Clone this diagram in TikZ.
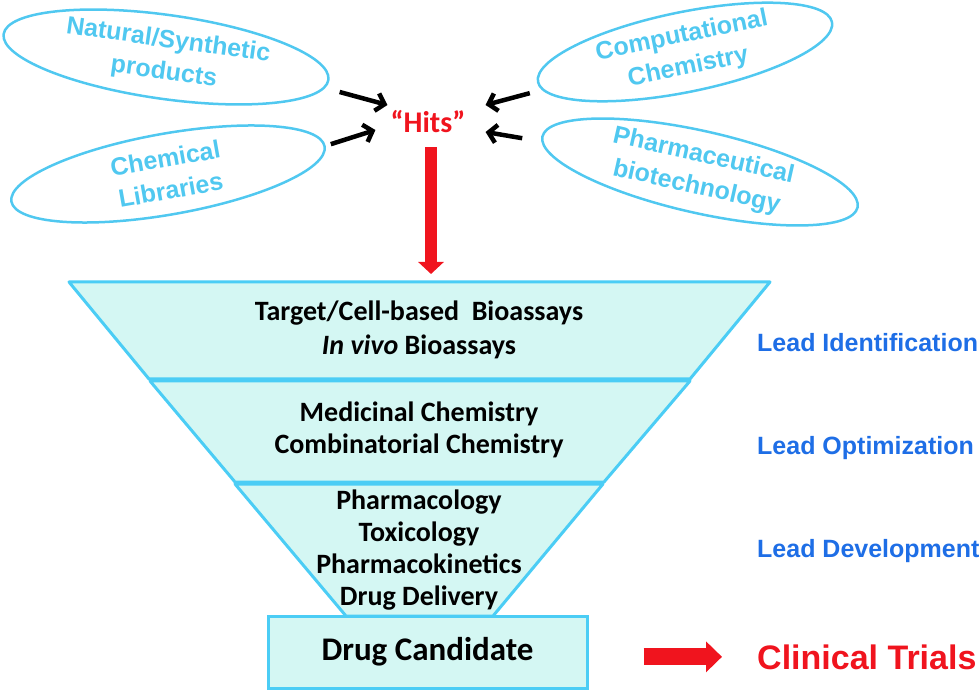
\documentclass[tikz,border=0pt]{standalone}
\usepackage{fontspec}
\setmainfont{Carlito}
\newfontfamily\arialfont{Liberation Sans}
\usetikzlibrary{arrows.meta,shapes.geometric}

\definecolor{skyline}{RGB}{80,200,240}
\definecolor{funnelfill}{RGB}{212,247,243}
\definecolor{funnelline}{RGB}{75,205,245}
\definecolor{leadblue}{RGB}{30,110,230}
\definecolor{hitred}{RGB}{240,20,30}

\begin{document}
\begin{tikzpicture}[
    x=1pt, y=-1pt,
    source/.style={
        ellipse,
        draw=skyline,
        line width=2.5pt,
        inner sep=0pt,
        align=center,
        text=skyline,
        font=\arialfont\bfseries\fontsize{25}{32}\selectfont
    },
    tier/.style={
        fill=funnelfill,
        draw=funnelline,
        line width=3pt,
        line join=round
    },
    tiertext/.style={
        align=center,
        inner sep=0pt,
        font=\bfseries\fontsize{28}{32}\selectfont
    },
    candidate/.style={
        rectangle,
        fill=funnelfill,
        draw=funnelline,
        line width=3pt,
        minimum width=319pt,
        minimum height=72pt,
        font=\bfseries\fontsize{33}{38}\selectfont
    },
    lead/.style={
        anchor=base west,
        inner sep=0pt,
        text=leadblue,
        font=\arialfont\bfseries\fontsize{25}{28}\selectfont
    },
    hitsarrow/.style={
        draw=black,
        line width=4.5pt,
        -{Straight Barb[length=8pt,width=18pt]}
    },
    droparrow/.style={
        draw=hitred,
        line width=12pt,
        -{Triangle[length=12pt,width=25pt]}
    },
    trialarrow/.style={
        draw=hitred,
        line width=17pt,
        -{Triangle[length=16pt,width=30pt]}
    }
]
\useasboundingbox (0,0) rectangle (980,692);

% sources of hits
\node[source, minimum width=328pt, minimum height=84pt, rotate=-8] (nat) at (166,57) {Natural/Synthetic\\products};
\node[source, minimum width=318pt, minimum height=81pt, rotate=10] (chem) at (168,174) {Chemical\\Libraries};
\node[source, minimum width=300pt, minimum height=80pt, rotate=11.5] (comp) at (685,52) {Computational\\Chemistry};
\node[source, minimum width=323pt, minimum height=82pt, rotate=-12.7] (pharm) at (700,172) {Pharmaceutical\\biotechnology};

\node[inner sep=0pt, text=hitred, font=\bfseries\fontsize{30}{34}\selectfont] (hits) at (428,122) {“Hits”};

\draw[hitsarrow] ([shift={(10,12)}]nat.east) -- ([shift={(-3,-17)}]hits.west);
\draw[hitsarrow] ([shift={(5,-2)}]chem.east) -- ([shift={(-15,8)}]hits.west);
\draw[hitsarrow] ([shift={(-7,11)}]comp.west) -- ([shift={(20,-17)}]hits.east);
\draw[hitsarrow] ([shift={(-19,2)}]pharm.west) -- ([shift={(20,10)}]hits.east);

\coordinate (drop) at (431,274);
\draw[droparrow, shorten <=14pt] (hits.south -| drop) -- (drop);

% funnel
\draw[tier] (69,282) -- (770,282) -- (690,379) -- (149,379) -- cycle;
\draw[tier] (150,381) -- (690,381) -- (604,482) -- (235,482) -- cycle;
\draw[tier] (235,484) -- (603,484) -- (493,616) -- (346,616) -- cycle;

\node[tiertext, font=\bfseries\fontsize{28}{34}\selectfont] (ident) at (419,330) {Target/Cell-based\ \ Bioassays\\\textit{In vivo} Bioassays};
\node[tiertext] (optim) at (419,430) {Medicinal Chemistry\\Combinatorial Chemistry};
\node[tiertext] (devel) at (419,550) {Pharmacology\\Toxicology\\Pharmacokinetics\\Drug Delivery};

\node[candidate] (cand) at (427.5,652) {Drug Candidate};

% stages
\node[lead] (leadid) at (757,352) {Lead Identification};
\node[lead] (leadopt) at (757,454) {Lead Optimization};
\node[lead] (leaddev) at (757,557) {Lead Development};
\node[lead, text=hitred, font=\arialfont\bfseries\fontsize{34}{38}\selectfont] (trials) at (757,669) {Clinical Trials};

\draw[trialarrow, shorten <=55pt, shorten >=35pt] (cand.east |- trials.west) -- (trials.west);

\end{tikzpicture}
\end{document}
